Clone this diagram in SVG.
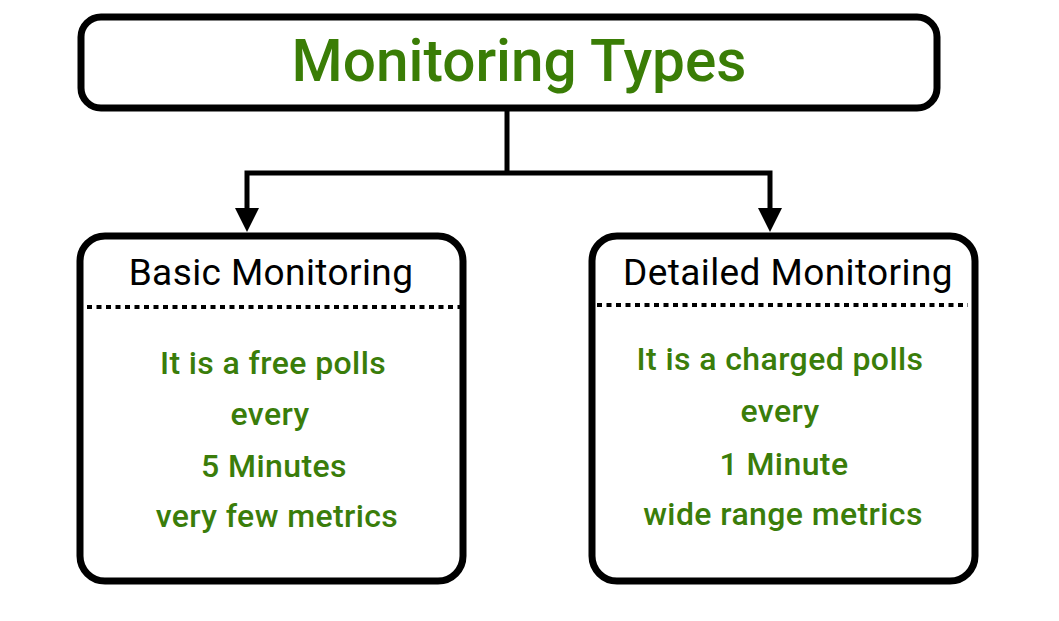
<svg xmlns="http://www.w3.org/2000/svg" width="1059" height="621" viewBox="0 0 1059 621">
<defs>
<style>
.box{fill:#fff;stroke:#000;stroke-width:7}
.sep{stroke:#000;stroke-width:4;stroke-dasharray:5 4.5;fill:none}
.title{font-family:Roboto,"Liberation Sans",sans-serif;font-weight:500;font-size:58.5px;fill:#3a7d06;text-anchor:middle}
.head{font-family:Roboto,"Liberation Sans",sans-serif;font-weight:400;font-size:37px;letter-spacing:0.4px;fill:#000;text-anchor:middle}
.body{font-family:Roboto,"Liberation Sans",sans-serif;font-weight:500;font-size:32px;letter-spacing:0.4px;fill:#3a7d0a;text-anchor:middle}
.conn{stroke:#000;stroke-width:5;fill:none}
</style>
</defs>
<rect width="1059" height="621" fill="#fff"/>
<g id="connectors">
<line class="conn" x1="507" y1="110" x2="507" y2="173" stroke-width="6"/>
<polyline class="conn" points="247,208 247,173 770,173 770,208"/>
<path d="M235,208 L259,208 L247,232 Z" fill="#000"/>
<path d="M758,208 L782,208 L770,232 Z" fill="#000"/>
</g>
<g id="monitoring-types">
<rect class="box" x="81" y="17" width="856" height="91" rx="20"/>
<text class="title" x="519" y="81">Monitoring Types</text>
</g>
<g id="basic-monitoring">
<rect class="box" x="80" y="236" width="383" height="345" rx="25"/>
<text class="head" x="271" y="285">Basic Monitoring</text>
<line class="sep" x1="87" y1="307" x2="463" y2="307"/>
<text class="body" x="273" y="374">It is a free polls</text>
<text class="body" x="270" y="425">every</text>
<text class="body" x="274" y="477">5 Minutes</text>
<text class="body" x="277" y="527">very few metrics</text>
</g>
<g id="detailed-monitoring">
<rect class="box" x="592" y="236" width="383" height="345" rx="25"/>
<text class="head" x="788" y="285">Detailed Monitoring</text>
<line class="sep" x1="597" y1="305" x2="968" y2="305"/>
<text class="body" x="780" y="370">It is a charged polls</text>
<text class="body" x="780" y="422">every</text>
<text class="body" x="784" y="475">1 Minute</text>
<text class="body" x="783" y="525">wide range metrics</text>
</g>
</svg>
